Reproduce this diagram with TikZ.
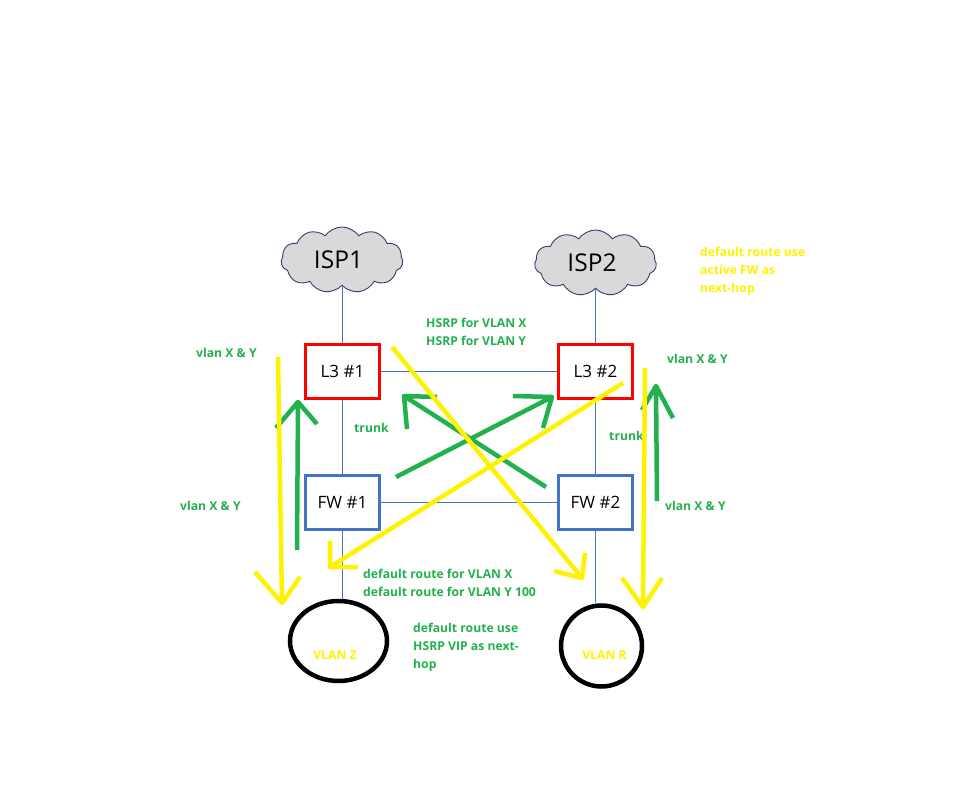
\documentclass[tikz,border=0pt]{standalone}
\usepackage{fontspec}
\setmainfont{Open Sans}
\usetikzlibrary{shapes.symbols,shapes.geometric}
\definecolor{lnblue}{HTML}{4472C4}
\definecolor{penGreen}{HTML}{22B14C}
\definecolor{penYellow}{HTML}{FFF200}
\definecolor{cloudEdge}{HTML}{2F4268}
\tikzset{
  isp/.style={cloud, cloud puffs=11, cloud puff arc=110, aspect=1.9, cloud ignores aspect, draw=cloudEdge, fill=gray!30, line width=0.9pt, minimum width=122pt, minimum height=66pt, inner sep=0pt, font=\fontsize{24.5}{28}\selectfont},
  l3box/.style={draw=red, line width=3pt, fill=white, minimum width=74pt, minimum height=54pt, inner sep=0pt, font=\fontsize{17}{18}\selectfont},
  fwbox/.style={draw=lnblue, line width=3pt, fill=white, minimum width=74pt, minimum height=54pt, inner sep=0pt, font=\fontsize{17}{18}\selectfont},
  vlan/.style={ellipse, draw=black, line width=4.5pt, inner sep=0pt},
  link/.style={draw=lnblue, line width=0.9pt},
  greenpen/.style={draw=penGreen, line width=4.5pt, line join=round},
  yellowpen/.style={draw=penYellow, line width=4.5pt, line join=round},
  greentxt/.style={text=penGreen, font=\fontsize{12.2}{18}\selectfont\bfseries, anchor=west, align=left, inner sep=0pt},
  yellowtxt/.style={text=penYellow, font=\fontsize{12.2}{18}\selectfont\bfseries, align=left, inner sep=0pt},
}
\begin{document}
\begin{tikzpicture}[x=1pt, y=-1pt]
\useasboundingbox (0,0) rectangle (962,786);

% Clouds
\node[isp] (isp1) at (342,260) {\hspace*{-7pt}ISP1};
\node[isp] (isp2) at (595.5,263) {\hspace*{-7pt}ISP2};

% Switches and firewalls
\node[l3box] (l3a) at (342.5,371.5) {L3 \#1};
\node[l3box] (l3b) at (595.5,371.5) {L3 \#2};
\node[fwbox] (fwa) at (342.5,502.5) {FW \#1};
\node[fwbox] (fwb) at (595.5,502.5) {FW \#2};

% VLANs
\node[vlan, minimum width=97pt, minimum height=80pt] (vlanz) at (338.5,641) {};
\node[vlan, minimum width=81pt, minimum height=81pt] (vlanr) at (601.5,646) {};

% Blue links
\draw[link] (isp1.south -| l3a.north) -- (l3a.north);
\draw[link] (isp2.south -| l3b.north) -- (l3b.north);
\draw[link] (l3a) -- (fwa);
\draw[link] (l3b) -- (fwb);
\draw[link] (l3a) -- (l3b);
\draw[link] (fwa) -- (fwb);
\draw[link] (fwa.south) -- (fwa.south |- vlanz.north);
\draw[link] (fwb.south) -- (fwb.south |- vlanr.north);

% Labels
\node[greentxt] (lblla) at (196,353) {vlan X \& Y};
\node[greentxt] (lbllb) at (180,506) {vlan X \& Y};
\node[greentxt] (lblra) at (667,359) {vlan X \& Y};
\node[greentxt] (lblrb) at (665,506) {vlan X \& Y};
\node[greentxt] (trunka) at (354,428) {trunk};
\node[greentxt] (trunkb) at (609,436) {trunk};
\node[greentxt] (hsrp) at (426,332) {HSRP for VLAN X\\HSRP for VLAN Y};
\node[greentxt] (defrt) at (363,583) {default route for VLAN X\\default route for VLAN Y 100};
\node[greentxt] (defvip) at (413,647) {default route use\\HSRP VIP as next-\\hop};
\node[yellowtxt, anchor=west] (defact) at (700,271.5) {default route use\\active FW as\\next-hop};
\node[yellowtxt] (namez) at (335,655) {VLAN Z};
\node[yellowtxt] (namer) at (604.5,655) {VLAN R};

% Green arrows
\coordinate (gat) at (298,402);
\draw[greenpen] (297,550) -- (gat) (276,428) -- (gat) -- (317,424);
\coordinate (gbt) at (656,386);
\draw[greenpen] (657,501) -- (gbt) (642,410) -- (gbt) -- (673,418);
\coordinate (gct) at (552,397);
\draw[greenpen] (396,477) -- (gct) (513,396) -- (gct) -- (543,428);
\coordinate (gdt) at (404,396);
\draw[greenpen] (546,487) -- (gdt) (437,397) -- (gdt) -- (407,429);

% Yellow arrows
\coordinate (yat) at (282,603);
\draw[yellowpen] (278,357) -- (yat) (255,572) -- (yat) -- (300,577);
\coordinate (ybt) at (643,607);
\draw[yellowpen] (645,368) -- (ybt) (622,578) -- (ybt) -- (662,578);
\coordinate (yct) at (582,578);
\draw[yellowpen] (392,347) -- (yct) (554,571) -- (yct) -- (585,553);
\coordinate (ydt) at (330,567);
\draw[yellowpen] (623,383) -- (ydt) (330,541) -- (ydt) -- (358,567);
\end{tikzpicture}
\end{document}
